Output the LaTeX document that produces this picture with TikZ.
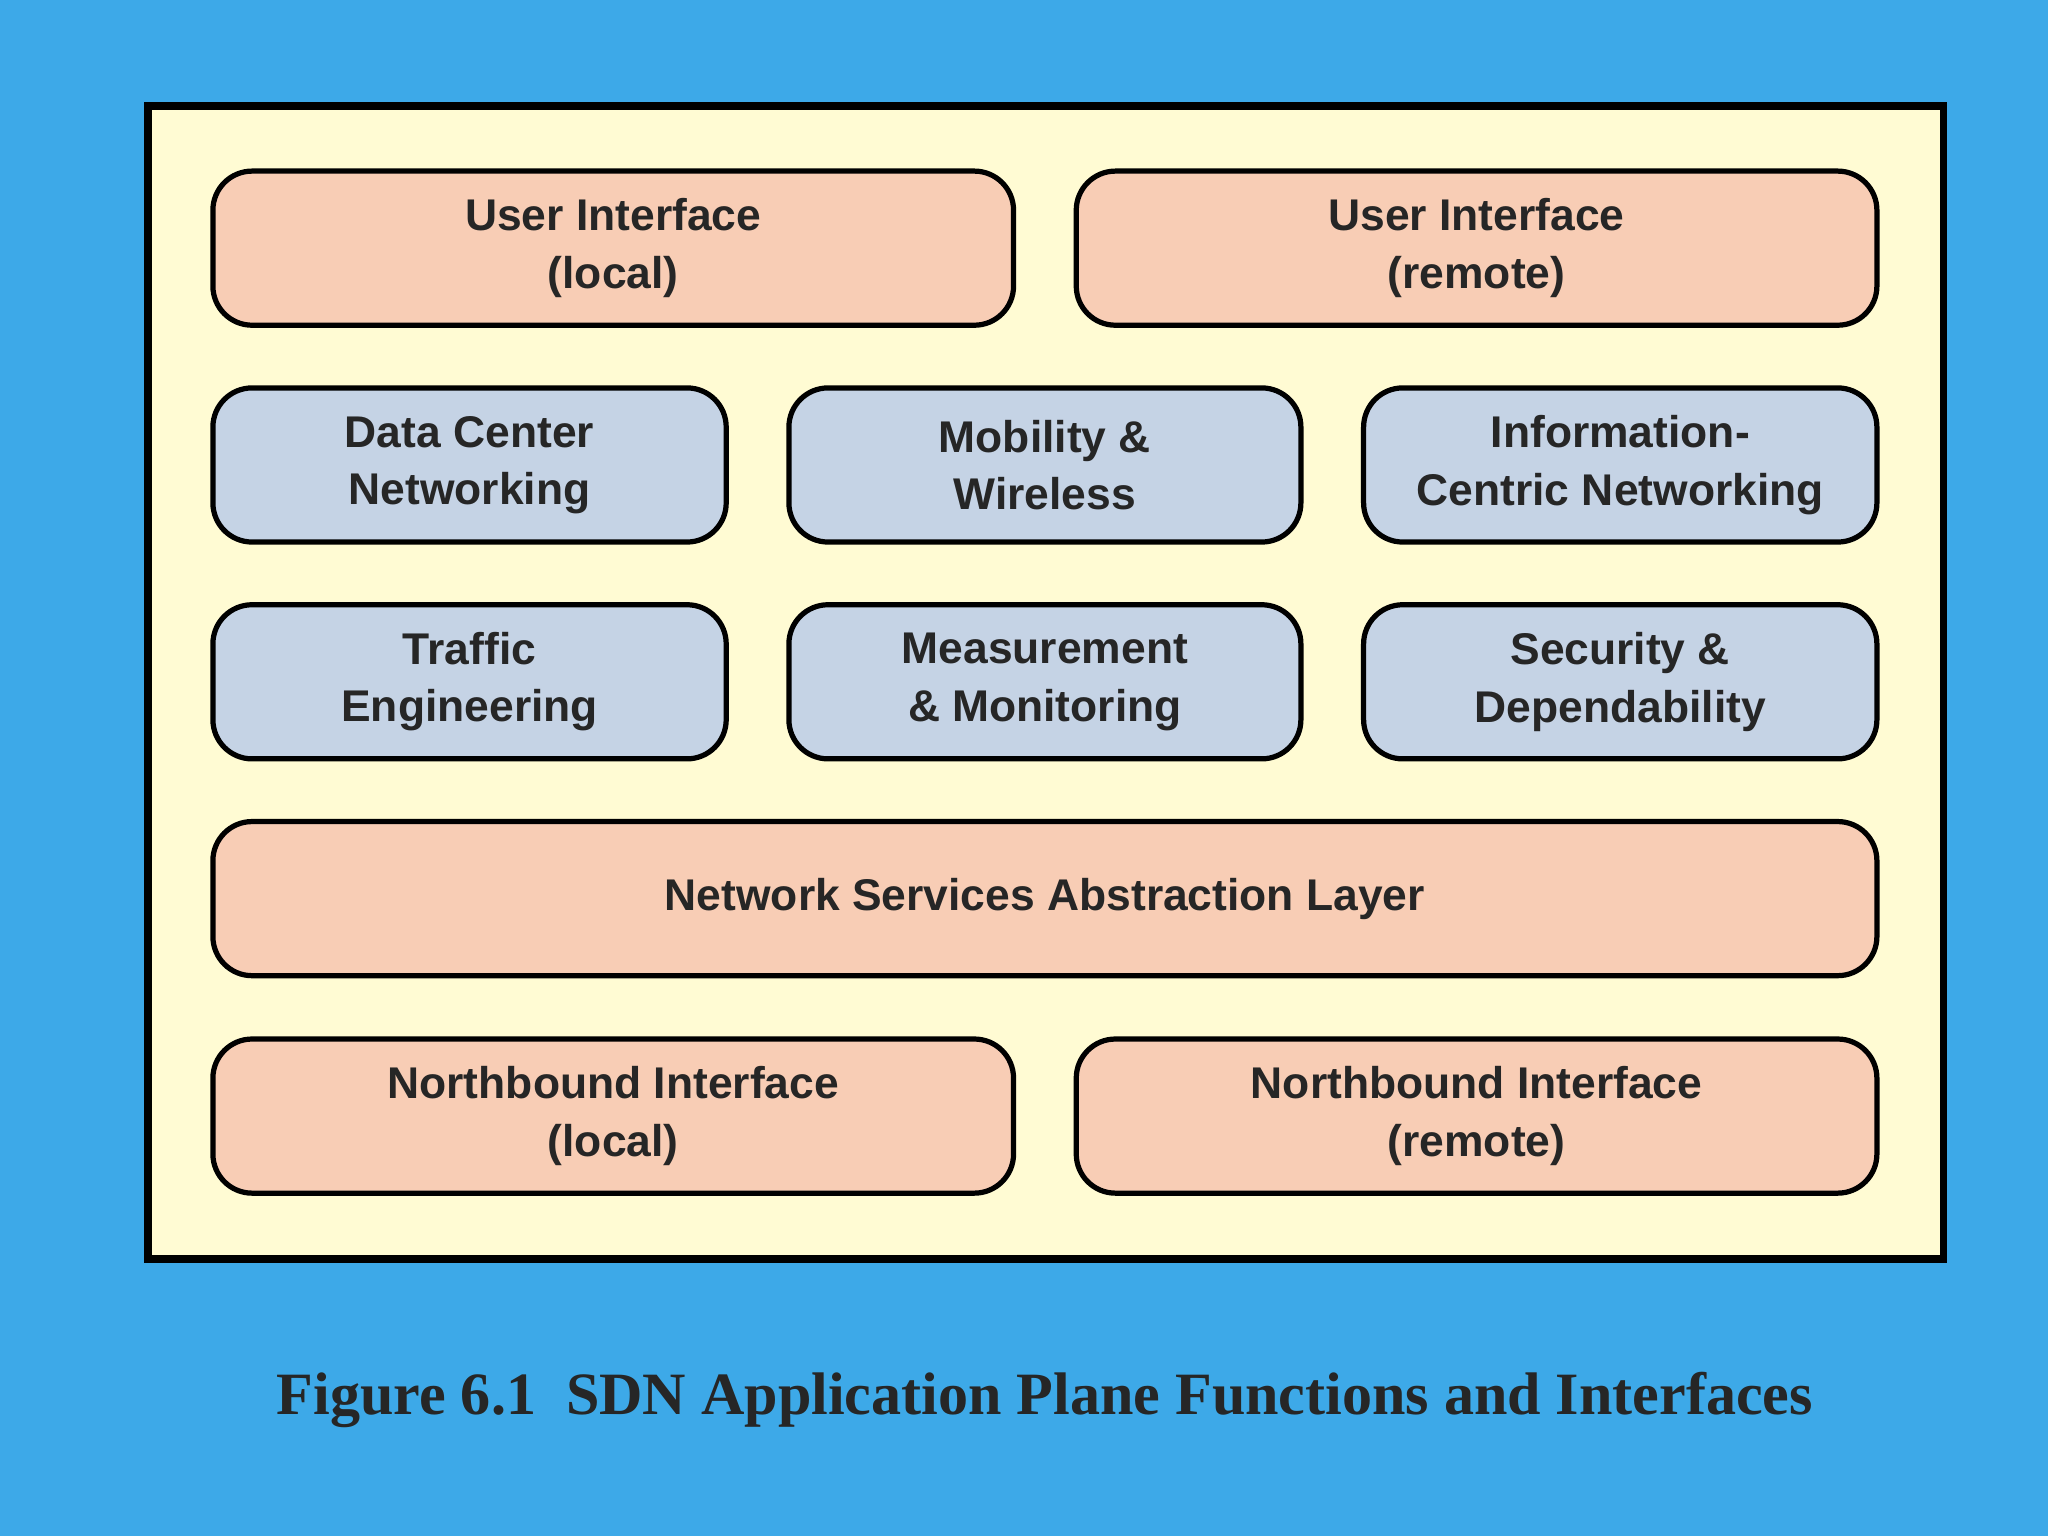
\documentclass[tikz,border=0pt]{standalone}
\usepackage{fontspec}
\setmainfont{Liberation Sans}
\newfontfamily\capfont{Liberation Serif}
\definecolor{bgblue}{HTML}{3DA9E8}
\definecolor{peach}{HTML}{F8CDB5}
\definecolor{gblue}{HTML}{C5D3E5}
\definecolor{pale}{HTML}{FFFBD3}
\begin{document}
\begin{tikzpicture}[x=0.5pt,y=-0.5pt,
  box/.style={draw=black,line width=2pt,rounded corners=15pt,inner sep=0pt,align=center,
    font=\fontsize{17}{22}\selectfont\bfseries,text=black!85},
  pk/.style={box,fill=peach}, bl/.style={box,fill=gblue}]
\fill[bgblue] (0,0) rectangle (1568,1176);
\useasboundingbox (0,0) rectangle (1568,1176);
\node[draw=black,line width=3pt,fill=pale,minimum width=1375*0.5pt,minimum height=883*0.5pt,inner sep=0pt] (frame) at (800.5,522.5) {};
\def\bx#1#2#3#4#5#6{\node[#2,minimum width=#4*0.5pt,minimum height=118*0.5pt] (#1) at (#3,#5) {#6};}
\bx{uil}{pk}{469.5}{613}{190}{User Interface\\(local)}
\bx{uir}{pk}{1130.5}{613}{190}{User Interface\\(remote)}
\bx{dcn}{bl}{359.5}{393}{356}{Data Center\\Networking}
\bx{mw}{bl}{800}{392}{356}{Mobility \&\\Wireless}
\bx{icn}{bl}{1240.5}{393}{356}{Information-\\Centric Networking}
\bx{te}{bl}{359.5}{393}{522}{Traffic\\Engineering}
\bx{mm}{bl}{800}{392}{522}{Measurement\\\& Monitoring}
\bx{sd}{bl}{1240.5}{393}{522}{Security \&\\Dependability}
\bx{nsal}{pk}{800}{1274}{688}{Network Services Abstraction Layer}
\bx{nil}{pk}{469.5}{613}{854.5}{Northbound Interface\\(local)}
\bx{nir}{pk}{1130.5}{613}{854.5}{Northbound Interface\\(remote)}
\node[font=\capfont\bfseries\fontsize{23}{26}\selectfont,text=black!85] (cap) at (800,1072) {Figure 6.1\ \ SDN Application Plane Functions and Interfaces};
\end{tikzpicture}
\end{document}
